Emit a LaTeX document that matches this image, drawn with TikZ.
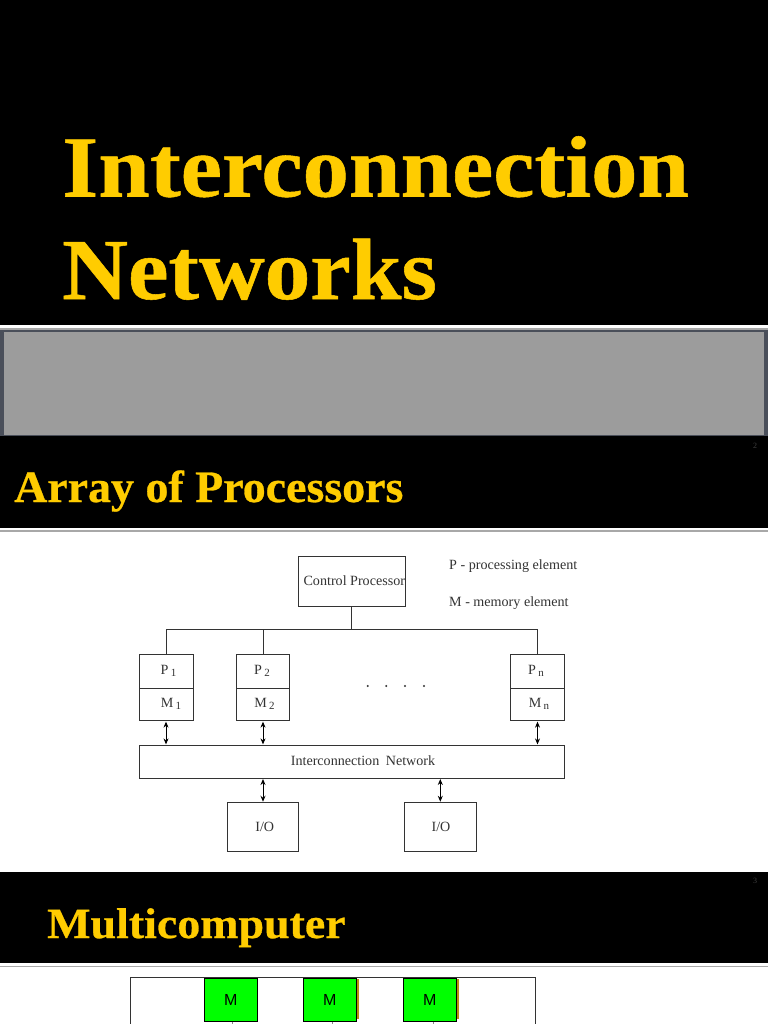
\documentclass[tikz,border=0pt]{standalone}
\usepackage{fontspec}
\setmainfont{Liberation Serif}
\newfontfamily\armfont{Liberation Sans}
\newfontfamily\ttlfont[FakeBold=0.6]{Liberation Serif Bold}
\definecolor{gold}{HTML}{FFCC00}
\definecolor{ink}{HTML}{333333}
\definecolor{slidegrey}{HTML}{9C9C9C}
\definecolor{edgegrey}{HTML}{4A4F5A}
\definecolor{rulegrey}{HTML}{A8A8A8}
\definecolor{memgreen}{HTML}{00FF00}
\definecolor{shadowgold}{HTML}{B8900F}
\usetikzlibrary{arrows.meta}
\newcommand{\subs}[1]{\,\raisebox{-2.5pt}{\fontsize{11}{12}\selectfont #1}}
\tikzset{
  box/.style={draw=ink,line width=0.9pt,fill=white,inner sep=0pt},
  lbl/.style={font=\fontsize{14.1}{16}\selectfont,text=ink,inner sep=0pt},
  link/.style={draw=ink,line width=0.9pt},
  dbl/.style={draw=black,line width=0.9pt,{Stealth[length=6pt,width=5pt]}-{Stealth[length=6pt,width=5pt]},shorten >=0.5pt,shorten <=0.5pt},
  ttl/.style={text=gold,inner sep=0pt,anchor=base west,transform shape},
  mem/.style={draw=black,line width=0.8pt,fill=memgreen,inner sep=0pt,minimum width=53pt,minimum height=43.5pt,font=\armfont\fontsize{16}{18}\selectfont},
}
\begin{document}
\begin{tikzpicture}[x=1pt,y=-1pt]
\useasboundingbox (0,0) rectangle (768,1024);
\fill[white] (0,0) rectangle (768,1024);
% bands
\fill[black] (0,0) rectangle (768,325);
\fill[rulegrey] (0,328) rectangle (768,330);
\fill[edgegrey] (0,330) rectangle (768,436);
\fill[slidegrey] (4,332) rectangle (764,435);
\fill[black] (0,436) rectangle (768,527.5);
\fill[rulegrey] (0,530) rectangle (768,531.5);
\fill[black] (0,872) rectangle (768,963);
\fill[rulegrey] (0,965.5) rectangle (768,967);
% titles
\node[ttl,xscale=1.066,font=\ttlfont\fontsize{87}{90}\selectfont] (t1) at (62,196.5) {Interconnection};
\node[ttl,xscale=1.048,font=\ttlfont\fontsize{87}{90}\selectfont] (t2) at (62,299) {Networks};
\node[ttl,xscale=1.02,font=\ttlfont\fontsize{45}{47}\selectfont] (t3) at (14,502) {Array of Processors};
\node[ttl,xscale=1.068,font=\ttlfont\fontsize{43}{45}\selectfont] (t4) at (47,938) {Multicomputer};
\node[text=black!75!white,font=\fontsize{8}{9}\selectfont,inner sep=0pt] (n2) at (755,446) {2};
\node[text=black!75!white,font=\fontsize{8}{9}\selectfont,inner sep=0pt] (n3) at (755,881) {3};
% array of processors
\node[box,minimum width=106.7pt,minimum height=50pt] (cp) at (351.7,581) {};
\node[lbl] (cpt) at (354.3,581) {Control Processor};
\coordinate (bus) at (351.7,629.7);
\node[box,minimum width=54pt,minimum height=33.6pt] (p1) at (166,671.5) {};
\node[box,minimum width=54pt,minimum height=32.4pt] (m1) at (166,704.5) {};
\node[box,minimum width=53pt,minimum height=33.6pt] (p2) at (263,671.5) {};
\node[box,minimum width=53pt,minimum height=32.4pt] (m2) at (263,704.5) {};
\node[box,minimum width=53.6pt,minimum height=33.6pt] (pn) at (537.5,671.5) {};
\node[box,minimum width=53.6pt,minimum height=32.4pt] (mn) at (537.5,704.5) {};
\node[box,minimum width=425.3pt,minimum height=32.7pt] (net) at (351.6,761.7) {};
\node[box,minimum width=71.4pt,minimum height=49pt] (io1) at (263,827.2) {};
\node[box,minimum width=71.3pt,minimum height=49pt] (io2) at (440.3,827.2) {};
\node[lbl] at (168.5,671) {P\subs{1}};
\node[lbl] at (171,704) {M\subs{1}};
\node[lbl] at (262,671) {P\subs{2}};
\node[lbl] at (264.5,704) {M\subs{2}};
\node[lbl] at (536,671) {P\subs{n}};
\node[lbl] at (539,704) {M\subs{n}};
\node[lbl] at (363,761) {Interconnection\hspace{3pt} Network};
\node[lbl] at (264.7,827) {I/O};
\node[lbl] at (441,827) {I/O};
\node[lbl,anchor=base west] at (449,569) {P - processing element};
\node[lbl,anchor=base west] at (449,606) {M - memory element};
\foreach \dx in {367.7,386.3,405,424}
  \fill[ink] (\dx,686) circle (1.1pt);
% connectors
\draw[link] (cp.south) -- (bus);
\draw[link] (p1.north) |- (bus);
\draw[link] (p2.north) -- (p2.north |- bus);
\draw[link] (pn.north) |- (bus);
\draw[dbl] (m1.south) -- (m1.south |- net.north);
\draw[dbl] (m2.south) -- (m2.south |- net.north);
\draw[dbl] (mn.south) -- (mn.south |- net.north);
\draw[dbl] (io1.north |- net.south) -- (io1.north);
\draw[dbl] (io2.north |- net.south) -- (io2.north);
% multicomputer
\draw[ink,line width=0.9pt,fill=white] (130,1030) -- (130,977.5) -- (535,977.5) -- (535,1030);
\fill[black] (250,980) rectangle (258,1022);
\fill[shadowgold] (350,979) rectangle (359.3,1019);
\fill[shadowgold] (450,979) rectangle (459.3,1019);
\node[mem] (a1) at (230.7,999.7) {M};
\node[mem] (a2) at (329.7,999.7) {M};
\node[mem] (a3) at (429.7,999.7) {M};
\coordinate (s1) at (232,1026);
\coordinate (s2) at (332.5,1026);
\coordinate (s3) at (433,1026);
\draw[draw=ink!60!white,line width=0.8pt] (a1.south -| s1) -- (s1);
\draw[draw=ink!60!white,line width=0.8pt] (a2.south -| s2) -- (s2);
\draw[draw=ink!60!white,line width=0.8pt] (a3.south -| s3) -- (s3);
\end{tikzpicture}
\end{document}
